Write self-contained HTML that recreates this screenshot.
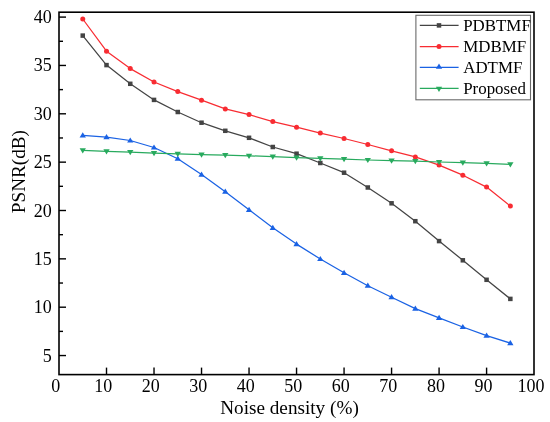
<!DOCTYPE html>
<html><head><meta charset="utf-8"><style>
html,body{margin:0;padding:0;background:#fff;}
body{width:550px;height:422px;overflow:hidden;}
svg{display:block;}
text{font-family:"Liberation Serif","Times New Roman",serif;fill:#000;}
.tl{font-size:18px;}
.ti{font-size:19.2px;}
.lg{font-size:16.9px;}
</style></head><body>
<svg width="550" height="422" viewBox="0 0 550 422">
<rect width="550" height="422" fill="#fff"/>
<polyline points="82.75,35.60 106.51,65.10 130.26,83.80 154.02,99.90 177.78,112.00 201.53,122.70 225.29,130.80 249.04,137.80 272.80,147.00 296.55,153.70 320.31,163.00 344.06,172.70 367.81,187.50 391.57,203.30 415.33,221.20 439.08,241.10 462.84,260.30 486.59,279.80 510.35,298.90" fill="none" stroke="#444444" stroke-width="1.25" stroke-linejoin="round"/>
<polyline points="82.75,19.00 106.51,51.20 130.26,68.60 154.02,82.00 177.78,91.60 201.53,100.20 225.29,108.90 249.04,114.60 272.80,121.60 296.55,127.20 320.31,133.10 344.06,138.50 367.81,144.50 391.57,150.80 415.33,156.90 439.08,165.10 462.84,175.20 486.59,187.10 510.35,206.10" fill="none" stroke="#f82c32" stroke-width="1.25" stroke-linejoin="round"/>
<polyline points="82.75,135.30 106.51,137.10 130.26,140.50 154.02,147.50 177.78,158.70 201.53,174.60 225.29,191.70 249.04,209.80 272.80,227.80 296.55,244.10 320.31,259.00 344.06,272.80 367.81,285.70 391.57,297.20 415.33,308.60 439.08,317.90 462.84,327.00 486.59,335.70 510.35,343.10" fill="none" stroke="#1a62e4" stroke-width="1.25" stroke-linejoin="round"/>
<polyline points="82.75,150.40 106.51,151.30 130.26,152.20 154.02,153.10 177.78,153.80 201.53,154.60 225.29,155.10 249.04,155.80 272.80,156.60 296.55,157.60 320.31,158.30 344.06,159.20 367.81,160.00 391.57,160.70 415.33,161.20 439.08,162.00 462.84,162.60 486.59,163.40 510.35,164.30" fill="none" stroke="#28aa5e" stroke-width="1.25" stroke-linejoin="round"/>
<rect x="80.50" y="33.35" width="4.5" height="4.5" fill="#444444"/>
<rect x="104.26" y="62.85" width="4.5" height="4.5" fill="#444444"/>
<rect x="128.01" y="81.55" width="4.5" height="4.5" fill="#444444"/>
<rect x="151.77" y="97.65" width="4.5" height="4.5" fill="#444444"/>
<rect x="175.53" y="109.75" width="4.5" height="4.5" fill="#444444"/>
<rect x="199.28" y="120.45" width="4.5" height="4.5" fill="#444444"/>
<rect x="223.04" y="128.55" width="4.5" height="4.5" fill="#444444"/>
<rect x="246.79" y="135.55" width="4.5" height="4.5" fill="#444444"/>
<rect x="270.55" y="144.75" width="4.5" height="4.5" fill="#444444"/>
<rect x="294.30" y="151.45" width="4.5" height="4.5" fill="#444444"/>
<rect x="318.06" y="160.75" width="4.5" height="4.5" fill="#444444"/>
<rect x="341.81" y="170.45" width="4.5" height="4.5" fill="#444444"/>
<rect x="365.56" y="185.25" width="4.5" height="4.5" fill="#444444"/>
<rect x="389.32" y="201.05" width="4.5" height="4.5" fill="#444444"/>
<rect x="413.08" y="218.95" width="4.5" height="4.5" fill="#444444"/>
<rect x="436.83" y="238.85" width="4.5" height="4.5" fill="#444444"/>
<rect x="460.59" y="258.05" width="4.5" height="4.5" fill="#444444"/>
<rect x="484.34" y="277.55" width="4.5" height="4.5" fill="#444444"/>
<rect x="508.10" y="296.65" width="4.5" height="4.5" fill="#444444"/>
<circle cx="82.75" cy="19.00" r="2.5" fill="#f82c32"/>
<circle cx="106.51" cy="51.20" r="2.5" fill="#f82c32"/>
<circle cx="130.26" cy="68.60" r="2.5" fill="#f82c32"/>
<circle cx="154.02" cy="82.00" r="2.5" fill="#f82c32"/>
<circle cx="177.78" cy="91.60" r="2.5" fill="#f82c32"/>
<circle cx="201.53" cy="100.20" r="2.5" fill="#f82c32"/>
<circle cx="225.29" cy="108.90" r="2.5" fill="#f82c32"/>
<circle cx="249.04" cy="114.60" r="2.5" fill="#f82c32"/>
<circle cx="272.80" cy="121.60" r="2.5" fill="#f82c32"/>
<circle cx="296.55" cy="127.20" r="2.5" fill="#f82c32"/>
<circle cx="320.31" cy="133.10" r="2.5" fill="#f82c32"/>
<circle cx="344.06" cy="138.50" r="2.5" fill="#f82c32"/>
<circle cx="367.81" cy="144.50" r="2.5" fill="#f82c32"/>
<circle cx="391.57" cy="150.80" r="2.5" fill="#f82c32"/>
<circle cx="415.33" cy="156.90" r="2.5" fill="#f82c32"/>
<circle cx="439.08" cy="165.10" r="2.5" fill="#f82c32"/>
<circle cx="462.84" cy="175.20" r="2.5" fill="#f82c32"/>
<circle cx="486.59" cy="187.10" r="2.5" fill="#f82c32"/>
<circle cx="510.35" cy="206.10" r="2.5" fill="#f82c32"/>
<polygon points="82.75,132.18 79.60,137.38 85.91,137.38" fill="#1a62e4"/>
<polygon points="106.51,133.98 103.36,139.18 109.66,139.18" fill="#1a62e4"/>
<polygon points="130.26,137.38 127.11,142.58 133.41,142.58" fill="#1a62e4"/>
<polygon points="154.02,144.38 150.87,149.58 157.17,149.58" fill="#1a62e4"/>
<polygon points="177.78,155.58 174.62,160.78 180.93,160.78" fill="#1a62e4"/>
<polygon points="201.53,171.48 198.38,176.68 204.68,176.68" fill="#1a62e4"/>
<polygon points="225.29,188.58 222.14,193.78 228.44,193.78" fill="#1a62e4"/>
<polygon points="249.04,206.68 245.89,211.88 252.19,211.88" fill="#1a62e4"/>
<polygon points="272.80,224.68 269.65,229.88 275.94,229.88" fill="#1a62e4"/>
<polygon points="296.55,240.98 293.40,246.18 299.70,246.18" fill="#1a62e4"/>
<polygon points="320.31,255.88 317.16,261.08 323.45,261.08" fill="#1a62e4"/>
<polygon points="344.06,269.68 340.91,274.88 347.21,274.88" fill="#1a62e4"/>
<polygon points="367.81,282.58 364.67,287.78 370.96,287.78" fill="#1a62e4"/>
<polygon points="391.57,294.08 388.42,299.28 394.72,299.28" fill="#1a62e4"/>
<polygon points="415.33,305.48 412.18,310.68 418.48,310.68" fill="#1a62e4"/>
<polygon points="439.08,314.78 435.93,319.98 442.23,319.98" fill="#1a62e4"/>
<polygon points="462.84,323.88 459.69,329.08 465.99,329.08" fill="#1a62e4"/>
<polygon points="486.59,332.58 483.44,337.78 489.74,337.78" fill="#1a62e4"/>
<polygon points="510.35,339.98 507.20,345.18 513.50,345.18" fill="#1a62e4"/>
<polygon points="79.60,148.32 85.91,148.32 82.75,153.52" fill="#28aa5e"/>
<polygon points="103.36,149.22 109.66,149.22 106.51,154.42" fill="#28aa5e"/>
<polygon points="127.11,150.12 133.41,150.12 130.26,155.32" fill="#28aa5e"/>
<polygon points="150.87,151.02 157.17,151.02 154.02,156.22" fill="#28aa5e"/>
<polygon points="174.62,151.72 180.93,151.72 177.78,156.92" fill="#28aa5e"/>
<polygon points="198.38,152.52 204.68,152.52 201.53,157.72" fill="#28aa5e"/>
<polygon points="222.14,153.02 228.44,153.02 225.29,158.22" fill="#28aa5e"/>
<polygon points="245.89,153.72 252.19,153.72 249.04,158.92" fill="#28aa5e"/>
<polygon points="269.65,154.52 275.94,154.52 272.80,159.72" fill="#28aa5e"/>
<polygon points="293.40,155.52 299.70,155.52 296.55,160.72" fill="#28aa5e"/>
<polygon points="317.16,156.22 323.45,156.22 320.31,161.42" fill="#28aa5e"/>
<polygon points="340.91,157.12 347.21,157.12 344.06,162.32" fill="#28aa5e"/>
<polygon points="364.67,157.92 370.96,157.92 367.81,163.12" fill="#28aa5e"/>
<polygon points="388.42,158.62 394.72,158.62 391.57,163.82" fill="#28aa5e"/>
<polygon points="412.18,159.12 418.48,159.12 415.33,164.32" fill="#28aa5e"/>
<polygon points="435.93,159.92 442.23,159.92 439.08,165.12" fill="#28aa5e"/>
<polygon points="459.69,160.52 465.99,160.52 462.84,165.72" fill="#28aa5e"/>
<polygon points="483.44,161.32 489.74,161.32 486.59,166.52" fill="#28aa5e"/>
<polygon points="507.20,162.22 513.50,162.22 510.35,167.42" fill="#28aa5e"/>
<rect x="59.0" y="12.2" width="475.0" height="362.40000000000003" fill="none" stroke="#000" stroke-width="1.6"/>
<line x1="59.0" y1="355.55" x2="66.0" y2="355.55" stroke="#000" stroke-width="1.4"/>
<text x="51.8" y="361.55" text-anchor="end" class="tl">5</text>
<line x1="59.0" y1="307.20" x2="66.0" y2="307.20" stroke="#000" stroke-width="1.4"/>
<text x="51.8" y="313.20" text-anchor="end" class="tl">10</text>
<line x1="59.0" y1="258.85" x2="66.0" y2="258.85" stroke="#000" stroke-width="1.4"/>
<text x="51.8" y="264.85" text-anchor="end" class="tl">15</text>
<line x1="59.0" y1="210.50" x2="66.0" y2="210.50" stroke="#000" stroke-width="1.4"/>
<text x="51.8" y="216.50" text-anchor="end" class="tl">20</text>
<line x1="59.0" y1="162.15" x2="66.0" y2="162.15" stroke="#000" stroke-width="1.4"/>
<text x="51.8" y="168.15" text-anchor="end" class="tl">25</text>
<line x1="59.0" y1="113.80" x2="66.0" y2="113.80" stroke="#000" stroke-width="1.4"/>
<text x="51.8" y="119.80" text-anchor="end" class="tl">30</text>
<line x1="59.0" y1="65.45" x2="66.0" y2="65.45" stroke="#000" stroke-width="1.4"/>
<text x="51.8" y="71.45" text-anchor="end" class="tl">35</text>
<line x1="59.0" y1="17.10" x2="66.0" y2="17.10" stroke="#000" stroke-width="1.4"/>
<text x="51.8" y="23.10" text-anchor="end" class="tl">40</text>
<line x1="59.0" y1="331.38" x2="63.0" y2="331.38" stroke="#000" stroke-width="1.4"/>
<line x1="59.0" y1="283.03" x2="63.0" y2="283.03" stroke="#000" stroke-width="1.4"/>
<line x1="59.0" y1="234.67" x2="63.0" y2="234.67" stroke="#000" stroke-width="1.4"/>
<line x1="59.0" y1="186.32" x2="63.0" y2="186.32" stroke="#000" stroke-width="1.4"/>
<line x1="59.0" y1="137.97" x2="63.0" y2="137.97" stroke="#000" stroke-width="1.4"/>
<line x1="59.0" y1="89.62" x2="63.0" y2="89.62" stroke="#000" stroke-width="1.4"/>
<line x1="59.0" y1="41.28" x2="63.0" y2="41.28" stroke="#000" stroke-width="1.4"/>
<text x="55.80" y="392.4" text-anchor="middle" class="tl">0</text>
<line x1="106.51" y1="374.6" x2="106.51" y2="367.6" stroke="#000" stroke-width="1.4"/>
<text x="103.31" y="392.4" text-anchor="middle" class="tl">10</text>
<line x1="154.02" y1="374.6" x2="154.02" y2="367.6" stroke="#000" stroke-width="1.4"/>
<text x="150.82" y="392.4" text-anchor="middle" class="tl">20</text>
<line x1="201.53" y1="374.6" x2="201.53" y2="367.6" stroke="#000" stroke-width="1.4"/>
<text x="198.33" y="392.4" text-anchor="middle" class="tl">30</text>
<line x1="249.04" y1="374.6" x2="249.04" y2="367.6" stroke="#000" stroke-width="1.4"/>
<text x="245.84" y="392.4" text-anchor="middle" class="tl">40</text>
<line x1="296.55" y1="374.6" x2="296.55" y2="367.6" stroke="#000" stroke-width="1.4"/>
<text x="293.35" y="392.4" text-anchor="middle" class="tl">50</text>
<line x1="344.06" y1="374.6" x2="344.06" y2="367.6" stroke="#000" stroke-width="1.4"/>
<text x="340.86" y="392.4" text-anchor="middle" class="tl">60</text>
<line x1="391.57" y1="374.6" x2="391.57" y2="367.6" stroke="#000" stroke-width="1.4"/>
<text x="388.37" y="392.4" text-anchor="middle" class="tl">70</text>
<line x1="439.08" y1="374.6" x2="439.08" y2="367.6" stroke="#000" stroke-width="1.4"/>
<text x="435.88" y="392.4" text-anchor="middle" class="tl">80</text>
<line x1="486.59" y1="374.6" x2="486.59" y2="367.6" stroke="#000" stroke-width="1.4"/>
<text x="483.39" y="392.4" text-anchor="middle" class="tl">90</text>
<text x="530.90" y="392.4" text-anchor="middle" class="tl">100</text>
<text x="289.5" y="414.1" text-anchor="middle" class="ti">Noise density (%)</text>
<text transform="translate(24.9,171.6) rotate(-90)" text-anchor="middle" class="ti">PSNR(dB)</text>
<rect x="415.9" y="15.3" width="114.6" height="84.5" fill="#fff" stroke="#6a6a6a" stroke-width="1.1"/>
<line x1="419.8" y1="25.4" x2="458.6" y2="25.4" stroke="#444444" stroke-width="1.25"/>
<rect x="436.75" y="23.15" width="4.5" height="4.5" fill="#444444"/>
<text x="463.2" y="31.2" class="lg">PDBTMF</text>
<line x1="419.8" y1="46.6" x2="458.6" y2="46.6" stroke="#f82c32" stroke-width="1.25"/>
<circle cx="439.00" cy="46.60" r="2.5" fill="#f82c32"/>
<text x="463.2" y="52.4" class="lg">MDBMF</text>
<line x1="419.8" y1="67.3" x2="458.6" y2="67.3" stroke="#1a62e4" stroke-width="1.25"/>
<polygon points="439.00,63.58 435.85,68.78 442.15,68.78" fill="#1a62e4"/>
<text x="463.2" y="73.1" class="lg">ADTMF</text>
<line x1="419.8" y1="88.3" x2="458.6" y2="88.3" stroke="#28aa5e" stroke-width="1.25"/>
<polygon points="435.85,86.82 442.15,86.82 439.00,92.02" fill="#28aa5e"/>
<text x="463.2" y="94.1" class="lg">Proposed</text>
</svg>
</body></html>
